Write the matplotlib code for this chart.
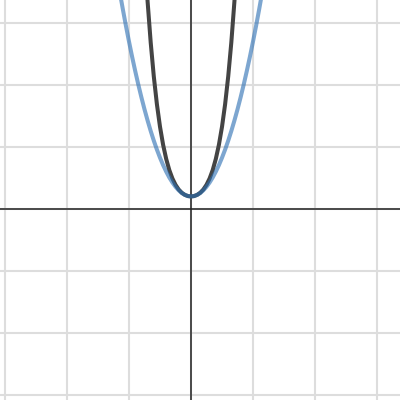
import numpy as np
import matplotlib
matplotlib.use("Agg")
import matplotlib.pyplot as plt

# points (right half, curves are symmetric about x = 0)
blue_x = [0.0, 0.05, 0.1, 0.15, 0.2, 0.25, 0.3, 0.35, 0.4, 0.45, 0.5, 0.55, 0.6,
          0.65, 0.7, 0.75, 0.8, 0.85, 0.9, 0.95, 1.0, 1.05, 1.1, 1.15, 1.2]
blue_y = [0.2, 0.206, 0.225, 0.256, 0.3, 0.356, 0.425, 0.506, 0.6, 0.706, 0.825,
          0.956, 1.1, 1.256, 1.425, 1.606, 1.8, 2.006, 2.225, 2.456, 2.7, 2.956,
          3.225, 3.506, 3.8]

black_x = [0.0, 0.05, 0.1, 0.15, 0.2, 0.25, 0.3, 0.35, 0.4, 0.45, 0.5, 0.55, 0.6,
           0.65, 0.7, 0.72]
black_y = [0.2, 0.206, 0.226, 0.26, 0.313, 0.388, 0.49, 0.626, 0.805, 1.034, 1.325,
           1.688, 2.137, 2.685, 3.346, 3.646]


def mirror(xs, ys):
    xs = np.array(xs)
    ys = np.array(ys)
    return np.concatenate([-xs[:0:-1], xs]), np.concatenate([ys[:0:-1], ys])


fig = plt.figure(figsize=(4, 4), dpi=100)
ax = fig.add_axes([0, 0, 1, 1])

# grid like a graphing calculator
ax.set_xticks(range(-3, 4))
ax.set_yticks(range(-3, 4))
ax.grid(True, color="#dddddd", linewidth=1.5)
ax.tick_params(length=0, labelbottom=False, labelleft=False)
for s in ax.spines.values():
    s.set_visible(False)
ax.axhline(0, color="#222222", linewidth=1.1, zorder=2)
ax.axvline(0, color="#222222", linewidth=1.1, zorder=2)

bx, by = mirror(black_x, black_y)
ax.plot(bx, by, color="#444444", linewidth=2.9, zorder=3, solid_capstyle="round")
lx, ly = mirror(blue_x, blue_y)
ax.plot(lx, ly, color="#2d70b3", alpha=0.62, linewidth=2.9, zorder=4, solid_capstyle="round")

ax.set_xlim(-3.08, 3.37)
ax.set_ylim(-3.085, 3.37)

fig.savefig("out.png", dpi=100)
